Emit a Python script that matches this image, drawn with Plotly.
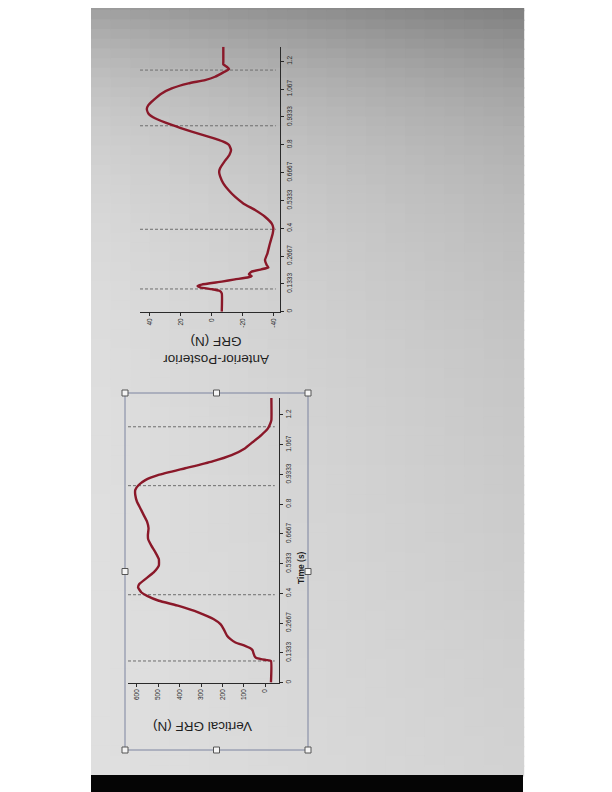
import numpy as np
import plotly.graph_objects as go

# photo of a rotated screen: time runs upward, force runs to the left

# vertical GRF (N) against time (s)
vgrf_time = [0, 0.097, 0.101, 0.105, 0.11, 0.118, 0.13, 0.145, 0.155, 0.165, 0.18, 0.195,
             0.21, 0.24, 0.262, 0.284, 0.314, 0.344, 0.367, 0.389, 0.404, 0.427, 0.442,
             0.464, 0.494, 0.524, 0.554, 0.584, 0.614, 0.644, 0.662, 0.692, 0.722, 0.752,
             0.781, 0.811, 0.841, 0.864, 0.886, 0.908, 0.931, 0.961, 0.991, 1.02, 1.05,
             1.08, 1.11, 1.14, 1.162, 1.177, 1.276]
vgrf_force = [-26, -26, -5, 20, 42, 50, 55, 60, 72, 95, 140, 163,
              179, 195, 210, 241, 311, 405, 498, 553, 579, 595, 589,
              561, 522, 498, 498, 514, 533, 548, 549, 546, 553, 569,
              584, 600, 608, 608, 592, 561, 499, 375, 251, 158, 96,
              57, 19, -12, -23, -28, -28]
vgrf_events = [0.097, 0.394, 0.883, 1.147]

# anterior-posterior GRF (N) against time (s)
ap_time = [0, 0.088, 0.1, 0.108, 0.117, 0.123, 0.13, 0.144, 0.155, 0.165, 0.171, 0.18,
           0.192, 0.203, 0.212, 0.224, 0.248, 0.28, 0.327, 0.375, 0.4, 0.423, 0.455,
           0.487, 0.519, 0.551, 0.583, 0.615, 0.647, 0.67, 0.687, 0.719, 0.751, 0.775,
           0.799, 0.815, 0.839, 0.863, 0.895, 0.927, 0.95, 0.971, 0.99, 1.014, 1.046,
           1.07, 1.094, 1.11, 1.126, 1.147, 1.163, 1.174, 1.185, 1.198, 1.27]
ap_force = [-6.5, -6.5, -5, 0, 7.5, 9.2, 6.5, -6.5, -15, -23.7, -25.8, -24,
            -25.8, -32, -36.6, -35.5, -34.4, -36, -37.6, -39.4, -39.8, -38.7, -34.4,
            -28, -20.4, -15, -10.8, -7.5, -5.5, -4.8, -5.4, -8.2, -11.4, -12.5,
            -11.2, -7.5, 2.2, 12.9, 25.8, 36.6, 40.9, 41.9, 40.9, 37.6, 32.3,
            25.8, 15, 4.3, -2.2, -7.5, -11.2, -9.7, -7.5, -7.5, -7.5]
ap_events = [0.109, 0.395, 0.891, 1.158]

time_ticks = [0, 0.1333, 0.2667, 0.4, 0.5333, 0.6667, 0.8, 0.9333, 1.067, 1.2]
time_labels = ["0", "0.1333", "0.2667", "0.4", "0.5333", "0.6667", "0.8", "0.9333", "1.067", "1.2"]
vgrf_ticks = [0, 100, 200, 300, 400, 500, 600]
ap_ticks = [-40, -20, 0, 20, 40]

# the page body keeps its 8px margin, so the figure is 8px smaller each way
OFF = 8
W, H = 612 - OFF, 792 - OFF
RED = "#8a1829"
FONT = "Liberation Sans"


def px(x):
    return (x - OFF) / W


def py(y):
    return 1 - (y - OFF) / H


fig = go.Figure()
fig.add_trace(go.Scatter(x=vgrf_force, y=vgrf_time, mode="lines", xaxis="x", yaxis="y",
                         line=dict(color=RED, width=2.4, shape="spline", smoothing=0.4)))
fig.add_trace(go.Scatter(x=ap_force, y=ap_time, mode="lines", xaxis="x2", yaxis="y2",
                         line=dict(color=RED, width=2.4, shape="spline", smoothing=0.4)))

# screen background: grey with uneven lighting, black bezel at the bottom
shapes = []
x_left, x_right, y_top, y_bottom = 91, 523, 0, 775
ncol, nrow = 22, 80
for i in range(ncol):
    for j in range(nrow):
        xf = (i + 0.5) / ncol
        yf = (j + 0.5) / nrow
        b = 224 - 70 * np.exp(-yf / 0.13) - 34 * xf * (1 - 0.6 * yf)
        b = int(max(0, min(255, b)))
        x0 = x_left + (x_right - x_left) * i / ncol
        x1 = x_left + (x_right - x_left) * (i + 1) / ncol
        y0 = y_top + (y_bottom - y_top) * j / nrow
        y1 = y_top + (y_bottom - y_top) * (j + 1) / nrow
        shapes.append(dict(type="rect", xref="paper", yref="paper", layer="below",
                           x0=px(x0), x1=px(x1) + 0.002, y0=py(y1) - 0.002, y1=py(y0),
                           fillcolor=f"rgb({b},{b},{b})", line=dict(width=0)))
shapes.append(dict(type="rect", xref="paper", yref="paper", layer="below",
                   x0=px(x_left), x1=px(x_right), y0=0, y1=py(y_bottom),
                   fillcolor="#050505", line=dict(width=0)))

# event markers (dashed)
for t in vgrf_events:
    shapes.append(dict(type="line", xref="x domain", yref="y", x0=0, x1=0.97, y0=t, y1=t,
                       layer="below", line=dict(color="#6e6e6e", width=1, dash="3px,2px")))
for t in ap_events:
    shapes.append(dict(type="line", xref="x2 domain", yref="y2", x0=0, x1=0.97, y0=t, y1=t,
                       layer="below", line=dict(color="#6e6e6e", width=1, dash="3px,2px")))

# selection frame round the vertical chart
fx0, fx1, fy0, fy1 = 125, 308, 393, 750
shapes.append(dict(type="rect", xref="paper", yref="paper",
                   x0=px(fx0), x1=px(fx1), y0=py(fy1), y1=py(fy0),
                   line=dict(color="#7d84a0", width=1)))
hx = [fx0, (fx0 + fx1) / 2, fx1]
hy = [fy0, (fy0 + fy1) / 2, fy1]
for a in hx:
    for b in hy:
        if a == hx[1] and b == hy[1]:
            continue
        shapes.append(dict(type="rect", xref="paper", yref="paper",
                           x0=px(a - 3), x1=px(a + 3), y0=py(b + 3), y1=py(b - 3),
                           fillcolor="#f4f4f4", line=dict(color="#555555", width=1)))

axis_common = dict(showgrid=False, zeroline=False, showline=True, linecolor="#2a2a2a",
                   linewidth=1, ticks="outside", ticklen=3, tickcolor="#2a2a2a",
                   tickangle=-90, tickfont=dict(family=FONT, size=6.5, color="#2a2a2a"))

fig.update_layout(
    width=W, height=H,
    margin=dict(l=0, r=0, t=0, b=0),
    paper_bgcolor="white",
    plot_bgcolor="rgba(0,0,0,0)",
    showlegend=False,
    shapes=shapes,
    xaxis=dict(domain=[px(128), px(279.3)], range=[642, -65], anchor="y",
               tickvals=vgrf_ticks, ticktext=[str(v) for v in vgrf_ticks], **axis_common),
    yaxis=dict(domain=[py(682.6), py(398)], range=[0, 1.276], anchor="x", side="right",
               tickvals=time_ticks, ticktext=time_labels, **axis_common),
    xaxis2=dict(domain=[px(140), px(280)], range=[46.3, -44.1], anchor="y2",
                tickvals=ap_ticks, ticktext=[str(v) for v in ap_ticks], **axis_common),
    yaxis2=dict(domain=[py(311.7), py(46.7)], range=[0, 1.27], anchor="x2", side="right",
                tickvals=time_ticks, ticktext=time_labels, **axis_common),
    annotations=[
        dict(text="Vertical GRF (N)", xref="paper", yref="paper", x=px(202), y=py(727),
             showarrow=False, textangle=180, xanchor="center", yanchor="middle",
             font=dict(family=FONT, size=13.5, color="#1e1e1e")),
        dict(text="<b>Time (s)</b>", xref="paper", yref="paper", x=px(301), y=py(568),
             showarrow=False, textangle=-90, xanchor="center", yanchor="middle",
             font=dict(family=FONT, size=8.5, color="#1e1e1e")),
        dict(text="Anterior-Posterior<br>GRF (N)", xref="paper", yref="paper",
             x=px(216), y=py(351), showarrow=False, textangle=180,
             xanchor="center", yanchor="middle",
             font=dict(family=FONT, size=13.5, color="#1e1e1e")),
    ],
)

fig.write_html("out.html")
